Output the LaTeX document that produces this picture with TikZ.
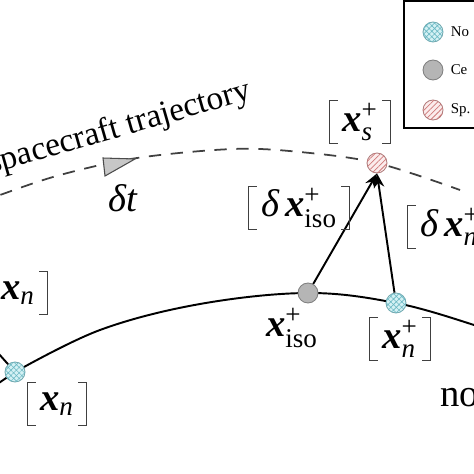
\documentclass[tikz,border=0pt]{standalone}
\usepackage{amsmath}
\usepackage{fontspec}
\setmainfont{Liberation Serif}
\usetikzlibrary{positioning}
\usetikzlibrary{arrows.meta,patterns.meta}

\definecolor{nomfill}{HTML}{D4F1F4}
\definecolor{nomhatch}{HTML}{6DB9C4}
\definecolor{cenfill}{HTML}{B5B5B5}
\definecolor{spfill}{HTML}{FBECEC}
\definecolor{sphatch}{HTML}{CF7A7A}

\newcommand\bx{\text{\bfseries\itshape x}}
\newcommand\dl{\text{\itshape δ}}
\def\tk{0.17cm}
% square brackets round a label node
\newcommand\brk[1]{%
  \draw[brkline] ([xshift=\tk]#1.north west) -| (#1.south west) -- ++(\tk,0);
  \draw[brkline] ([xshift=-\tk]#1.north east) -| (#1.south east) -- ++(-\tk,0);}

\tikzset{
  nomnode/.style={circle,minimum size=0.4cm,inner sep=0pt,draw=nomhatch!70!gray,line width=0.5pt,fill=nomfill,
    postaction={pattern={Hatch[angle=45,distance=2.2pt,line width=0.35pt]},pattern color=nomhatch}},
  cennode/.style={circle,minimum size=0.4cm,inner sep=0pt,draw=gray,line width=0.5pt,fill=cenfill},
  spnode/.style={circle,minimum size=0.4cm,inner sep=0pt,draw=sphatch!60!gray,line width=0.5pt,fill=spfill,
    postaction={pattern={Lines[angle=45,distance=2.2pt,line width=0.45pt]},pattern color=sphatch}},
  lbl/.style={font=\fontsize{22}{26}\selectfont,inner sep=0pt},
  brklbl/.style={lbl,inner xsep=0.25cm,minimum height=0.85cm},
  brkline/.style={black!75,line width=0.7pt},
  vec/.style={line width=1.1pt,-{Stealth[length=8pt,width=6pt]}},
  traj/.style={line width=1.1pt},
  sctraj/.style={line width=1pt,black!75,dash pattern=on 7pt off 5.5pt},
  tri/.style={fill=black!22,draw=black!70,line width=0.6pt},
}

\begin{document}
\begin{tikzpicture}[x=0.02cm,y=0.02cm]
  \useasboundingbox (0,0) rectangle (474,474);
  \clip (0,0) rectangle (474,474);

  %trajectories
  \draw[traj] plot[smooth,tension=0.6] coordinates {(15,102) (100,144) (200,170) (308,181) (396,171) (474,149) (500,138)};
  \draw[sctraj] plot[smooth,tension=0.55] coordinates {(-20,271) (0,279) (60,299) (137,316) (233,325) (300,322) (377,311) (460,284)};
  \draw[tri] (103,316) -- (135,315) -- (105,298) -- cycle;

  %states
  \node[nomnode] (n1) at (15,102) {};
  \node[cennode] (iso) at (308,181) {};
  \node[nomnode] (np) at (396,171) {};
  \node[spnode] (sp) at (377,311) {};

  \coordinate (inA) at (-10,130);
  \coordinate (inB) at (-10,85);
  \draw[traj] (n1) -- (inA);
  \draw[traj] (n1) -- (inB);

  \draw[vec] (iso) -- (sp.south);
  \draw[vec] (np) -- (sp.south);

  %labels
  \node[brklbl] (xnA) at (18,181) {$\bx_{\text{\itshape n}}$};
  \node[brklbl] (xnB) at (57,70) {$\bx_{\text{\itshape n}}$};
  \node[lbl] (xisoL) at (292,146) {$\bx^{\text{+}}_{\text{iso}}$};
  \node[brklbl] (xnpL) at (400,135) {$\bx^{\text{+}}_{\text{\itshape n}}$};
  \node[brklbl] (xsL) at (360,352) {$\bx^{\text{+}}_{\text{\itshape s}}$};
  \node[brklbl] (dxisoL) at (299,266) {$\dl\,\bx^{\text{+}}_{\text{iso}}$};
  \node[brklbl] (dxnL) at (450,247) {$\dl\,\bx^{\text{+}}_{\text{\itshape n}}$};
  \foreach \name in {xnA,xnB,xnpL,xsL,dxisoL,dxnL}{
    \brk{\name}
  }
  \node[lbl] (dtL) at (123,276) {\itshape δt};
  \node[rotate=16,anchor=base west,inner sep=0pt,font=\fontsize{19}{22}\selectfont] (scT) at (-9,300) {spacecraft trajectory};
  \node[lbl,anchor=base west] (nomT) at (440,68) {no};

  %legend
  \draw[line width=1pt] (404,346) rectangle (500,473);
  \foreach \y/\sty/\txt/\name in {442/nomnode/No/lgA,404/cennode/Ce/lgB,364/spnode/Sp./lgC}{
    \node[\sty] (\name) at (433,\y) {};
    \node[right=0.14cm of \name,inner sep=0pt,font=\fontsize{8.5}{10}\selectfont] (\name T) {\txt};
  }
\end{tikzpicture}
\end{document}
